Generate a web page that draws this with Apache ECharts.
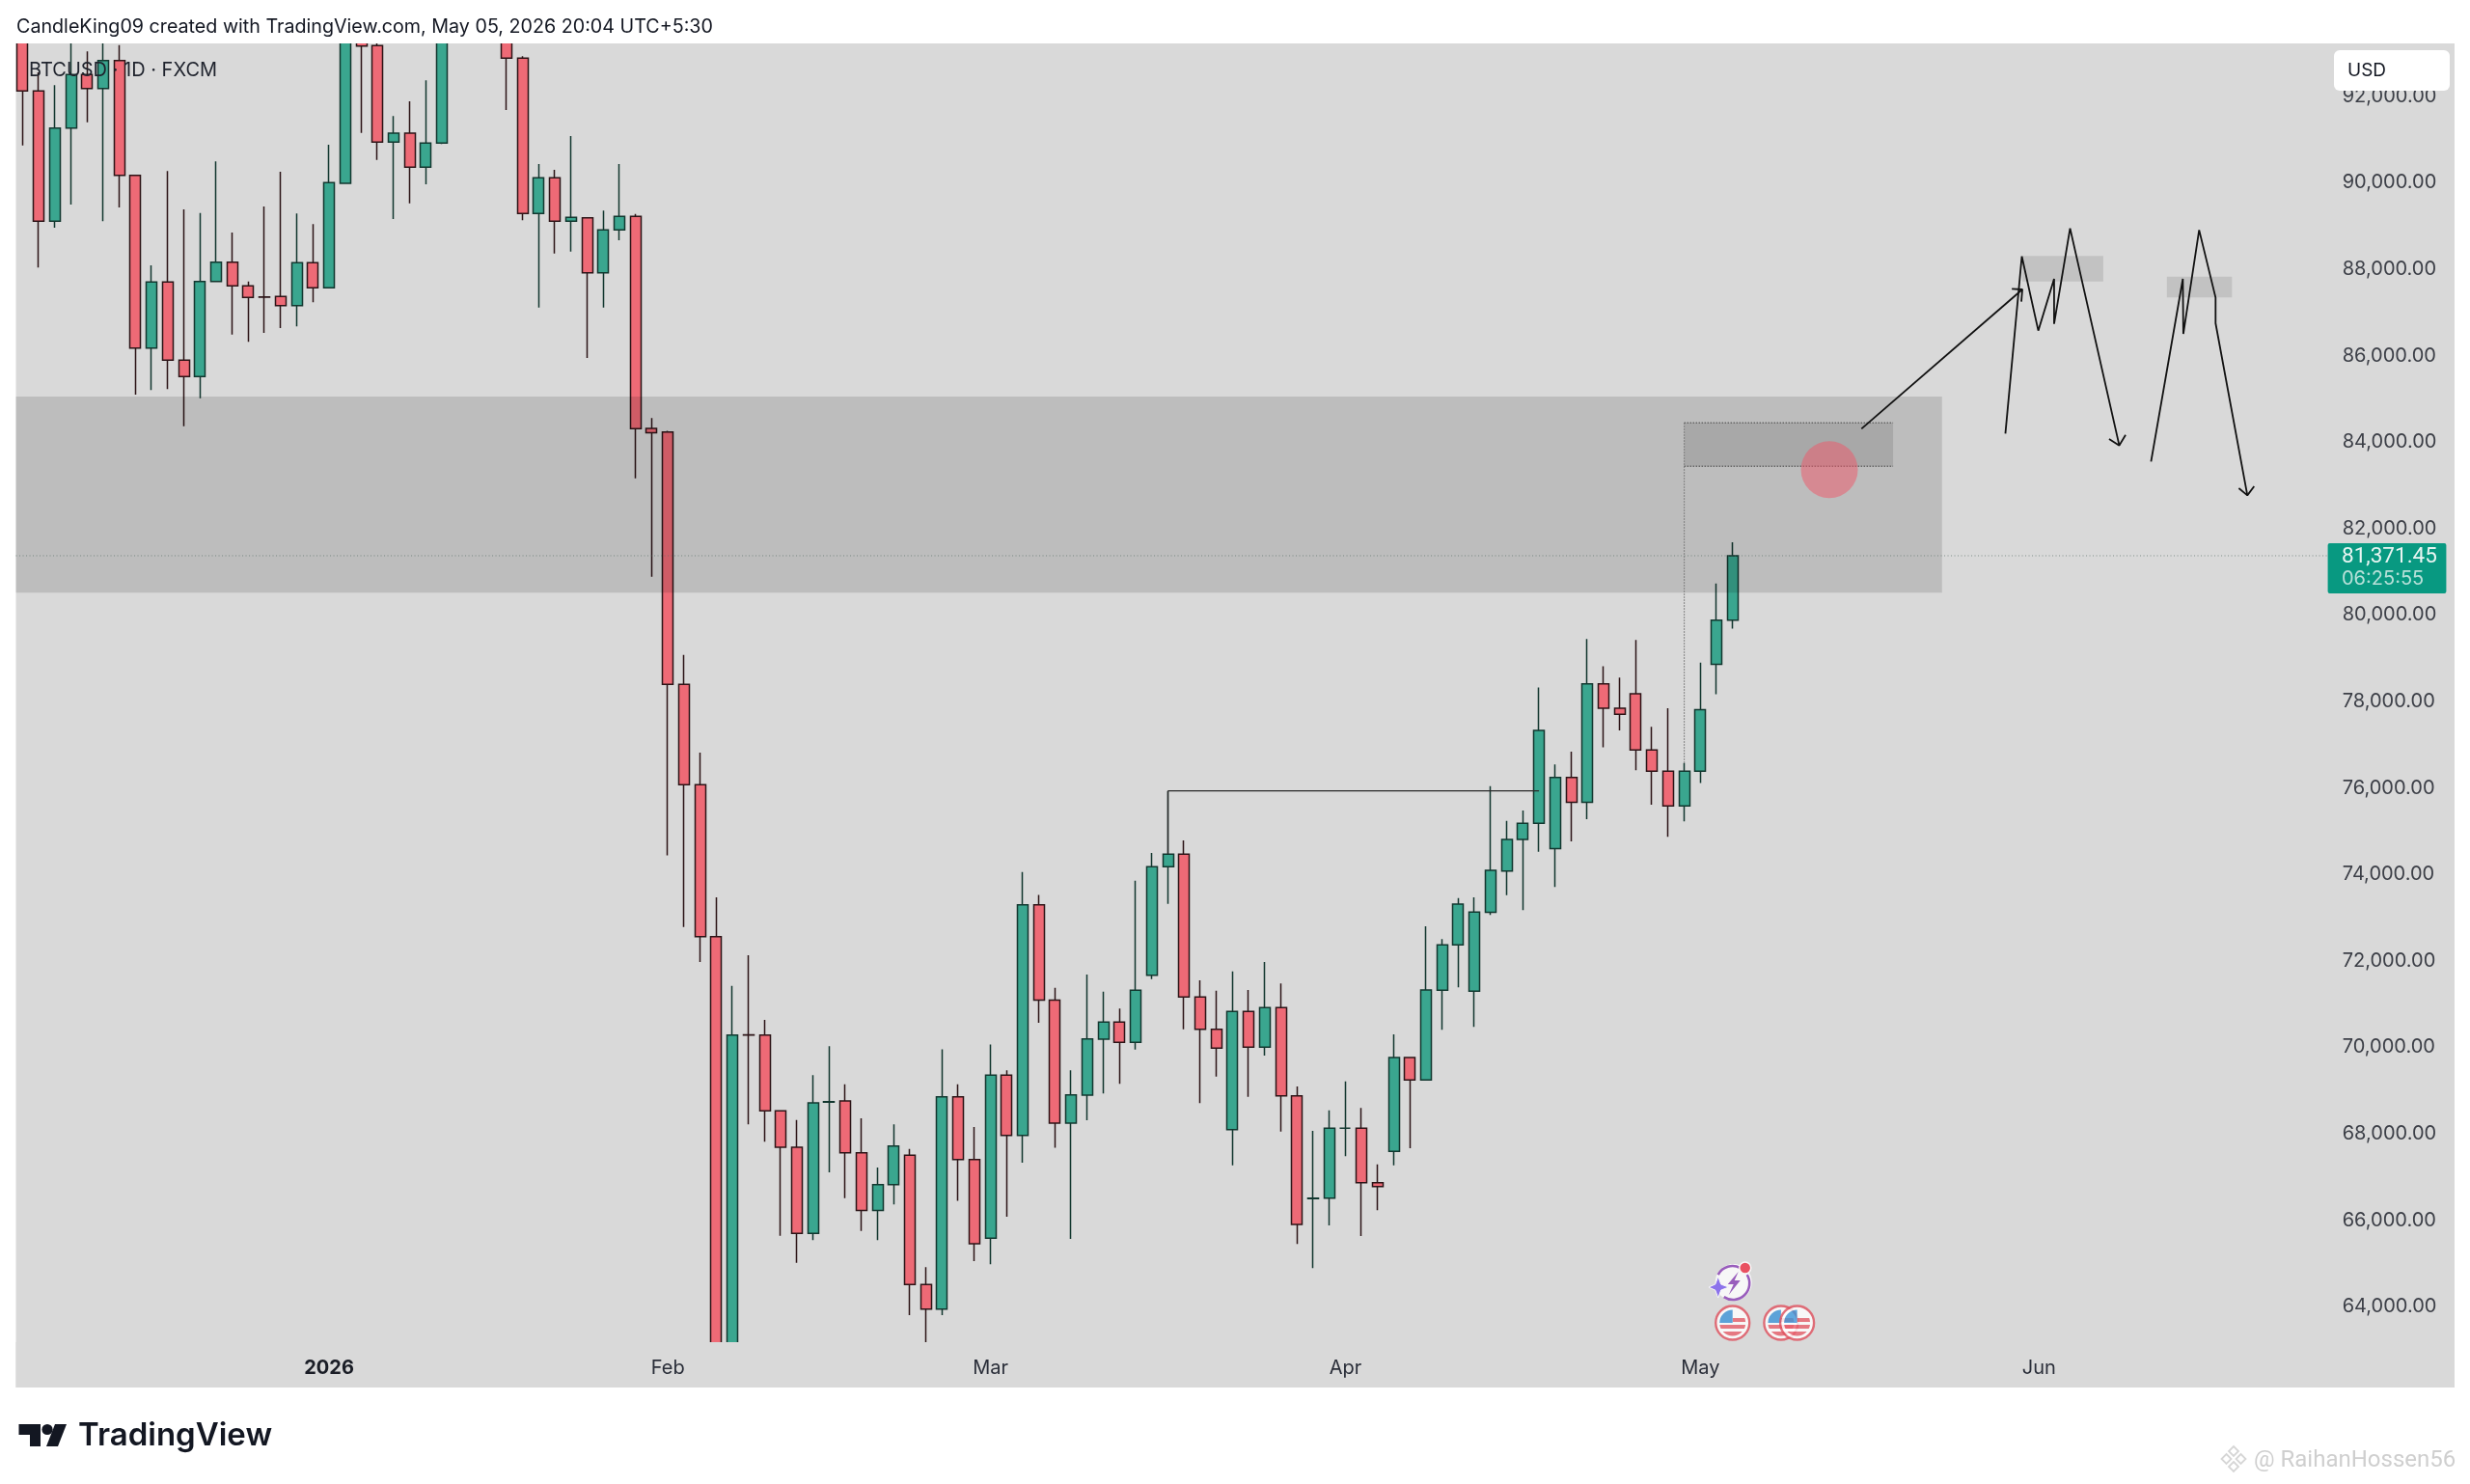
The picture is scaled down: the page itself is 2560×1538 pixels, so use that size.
<!DOCTYPE html>
<html><head><meta charset="utf-8">
<style>html,body{margin:0;padding:0;background:#fff}#c{width:2560px;height:1538px}</style>
<script src="https://cdn.jsdelivr.net/npm/echarts@6/dist/echarts.min.js"></script>
</head><body><div id="c"></div>
<script>
// Candle values; candles 27-29 lie above the visible range.
const opens = [93600,92122,89108,91266,92501,92181,92828,90172,86177,87702,85894,85515,87717,88163,87613,87360,87367,87159,88148,87568,89986,93500,93170,90939,91147,90358,90916,null,null,null,93700,92880,89287,90113,89108,89190,87918,88907,89220,84317,84231,78395,76075,72559,62800,70290,70281,68530,67690,65697,68730,68758,67562,66224,66822,67505,64516,63947,68857,67405,65584,69356,67961,73299,71093,68245,68894,70188,70583,70114,71669,74176,74466,71163,70419,68098,70828,70002,70917,68879,66498,66513,68128,68128,66870,67592,69764,69244,71319,72368,71297,73124,74080,74810,75180,74595,76244,75670,78408,77846,78181,76878,76388,75587,76388,78862,79879];
const closes = [92122,89108,91266,92501,92181,92828,90172,86177,87702,85894,85515,87717,88163,87613,87345,87355,87159,88148,87568,90001,94000,93163,90939,91147,90358,90916,94000,null,null,null,92880,89287,90113,89108,89198,87918,88907,89220,84310,84217,78395,76075,72559,62500,70281,70281,68530,67690,65697,68715,68745,67562,66224,66822,67719,64516,63947,68857,67405,65455,69356,67961,73299,71093,68245,68900,70196,70583,70114,71319,74176,74466,71163,70419,69980,70828,70002,70917,68879,65903,66510,68128,68128,66870,66781,69764,69244,71327,72368,73313,73127,74092,74810,75180,77332,76244,75670,78408,77846,77703,76878,76388,75587,76388,77810,79879,81371.45];
const lows = [90864,88037,88960,89495,91400,89108,89428,85098,85202,85224,84369,85016,87717,86489,86318,86527,86638,86675,87233,87568,89986,91154,90529,89160,89525,89964,90894,null,null,null,91683,89131,87114,88364,88409,85946,87114,88669,83164,80886,74438,72786,71975,61000,62500,68217,67819,65640,65014,65541,67107,66509,65754,65541,66366,63804,63000,63804,66452,65056,64985,66082,67334,70566,67676,65569,68314,68931,69154,69950,71580,73321,70419,68708,69325,67272,68857,69809,68053,65449,64891,65881,67480,65635,66230,67272,67666,69244,70404,71386,70471,73064,73519,73172,74523,73710,74762,75276,76938,77332,76412,75611,74870,75228,76113,78169,79687];
const highs = [94000,92553,92255,93400,93037,93400,93186,90172,88089,90269,89384,89302,90492,88848,87717,89451,90254,89287,89041,90879,94200,94000,93300,91541,91883,92367,94200,null,null,null,93900,92925,90433,90299,91080,89190,89354,90433,89280,84559,84260,79078,76815,73469,71420,72131,70637,68530,68317,69356,70025,69143,68359,67221,68217,67647,64914,69953,69143,68160,70067,69470,74053,73527,71377,69470,71684,71290,70895,73856,74496,75925,74786,71550,71312,71758,71327,71974,71475,69095,68068,68544,69214,68596,67294,70300,69764,72800,72502,73455,73469,76041,75240,75479,78324,76543,76842,79448,78815,78552,79424,77416,77846,76579,78898,80727,81684];

const priceTicks = [64000,66000,68000,70000,72000,74000,76000,78000,80000,82000,84000,86000,88000,90000,92000];
const timeTickIndex = [19,40,60,82,104,125];
const timeTickLabels = ['2026','Feb','Mar','Apr','May','Jun'];
const slotCount = 144;
const lastPrice = 81371.45;
const countdown = '06:25:55';

// Annotations in chart units: [bar position, price]
const bigZone = [-0.41,118.98,85054,80516];
const innerZone = [103,115.95,84444,83440];
const smallZoneA = [123.96,128.98,88305,87717];
const smallZoneB = [132.92,136.96,87829,87345];
const levelLine = [[71,75934],[94,75934]];
const levelDrop = [[71,75934],[71,74466]];
const riseArrow = [[113.99,84309],[123.96,87531]];
const riseHead = [[123.31,87546],[123.96,87531],[123.90,87248]];
const pathOne = [[122.91,84198],[123.93,88297],[124.95,86579],[125.93,87777],[125.93,86735],[126.92,88945],[129.97,83923]];
const headOne = [[129.34,84071],[129.97,83923],[130.36,84168]];
const pathTwo = [[131.94,83551],[133.91,87777],[133.94,86504],[134.92,88907],[135.94,87345],[135.94,86750],[137.91,82769]];
const headTwo = [[137.38,82933],[137.91,82769],[138.33,82978]];
const circlePoint = [[112,83364]];
const flagPoints = [[106,63626],[109,63626],[110,63626]];
const eventPoint = [[106,64540]];

const font = 'Inter, Roboto, "Noto Sans", sans-serif';
const categories = Array.from({length:slotCount},(_,i)=>{const k=timeTickIndex.indexOf(i);return k>=0?timeTickLabels[k]:'';});
const vis = v=>Math.min(93300,Math.max(63100,v));
const candleData = opens.map((o,i)=>o===null?['-','-','-','-']:[vis(o),vis(closes[i]),vis(lows[i]),vis(highs[i])]);

const flagSvg = 'data:image/svg+xml;utf8,'+encodeURIComponent('<svg xmlns="http://www.w3.org/2000/svg" width="80" height="80" viewBox="0 0 40 40"><defs><clipPath id="k"><circle cx="20" cy="20" r="13.5"/></clipPath></defs><circle cx="20" cy="20" r="17.5" fill="#fff" stroke="#e0525f" stroke-width="2.4"/><g clip-path="url(#k)"><rect width="40" height="40" fill="#fff"/><rect y="15" x="20" width="20" height="4" fill="#e8606c"/><rect y="22" width="40" height="4" fill="#e8606c"/><rect y="29" width="40" height="5" fill="#e8606c"/><rect x="5" y="5" width="15" height="15" fill="#3d95d8"/></g></svg>');
const eventSvg = 'data:image/svg+xml;utf8,'+encodeURIComponent('<svg xmlns="http://www.w3.org/2000/svg" width="100" height="100" viewBox="0 0 50 50"><circle cx="26" cy="24" r="19" fill="#fff"/><path d="M10 16 A 17 17 0 0 1 33 9" fill="none" stroke="#8a3fb5" stroke-width="2.6"/><path d="M40 16 A 17 17 0 0 1 16 39" fill="none" stroke="#8a3fb5" stroke-width="2.6"/><path d="M31 13 L20 26 L26 26 L21 37 L33 22 L27 22 Z" fill="#8a3fb5"/><path d="M10 18 L13 26 L21 29 L13 32 L10 40 L7 32 L0 29 L7 26 Z" fill="#7a5af0" stroke="#fff" stroke-width="1"/><circle cx="38" cy="9" r="6" fill="#ee3044" stroke="#fff" stroke-width="1.5"/></svg>');

const ann = (data,width,color,type)=>({type:'line',xAxisIndex:1,yAxisIndex:0,data,showSymbol:false,symbol:'none',silent:true,z:6,animation:false,
  lineStyle:{width,color,type:type||'solid'}});
const rectSeries = (rows,z)=>({type:'custom',xAxisIndex:1,yAxisIndex:0,silent:true,z,animation:false,clip:true,
  data:rows.map(r=>({value:[r.z[0],r.z[1],r.z[2],r.z[3]],fill:r.fill})),
  encode:{x:[0,1],y:[2,3]},
  renderItem:(p,api)=>{const a=api.coord([api.value(0),api.value(2)]),b=api.coord([api.value(1),api.value(3)]);
    return {type:'rect',shape:{x:a[0],y:a[1],width:b[0]-a[0],height:b[1]-a[1]},style:{fill:rows[p.dataIndex].fill}};}});
const diamond = (cx,cy,r)=>({type:'polygon',z:20,silent:true,shape:{points:[[cx,cy-r],[cx+r,cy],[cx,cy+r],[cx-r,cy]]},style:{fill:'none',stroke:'#d6d6d6',lineWidth:1.8}});

const chart = echarts.init(document.getElementById('c'),null,{renderer:'canvas'});
chart.setOption({
  animation:false,backgroundColor:'#fff',textStyle:{fontFamily:font},
  grid:{left:15.04,top:45,width:2407.68,height:1346,containLabel:false},
  xAxis:[
    {type:'category',z:30,data:categories,boundaryGap:true,axisLine:{show:false},axisTick:{show:false},splitLine:{show:false},
     axisLabel:{interval:0,margin:16.5,hideOverlap:false,color:'#2a2e39',fontSize:20,fontFamily:font,
       formatter:v=>v==='2026'?'{b|2026}':v,rich:{b:{fontWeight:700,fontSize:20,color:'#1a1d26',fontFamily:font}}}},
    {type:'value',min:-0.5,max:slotCount-0.5,show:false,splitLine:{show:false}}
  ],
  yAxis:[{type:'value',position:'right',min:63180,max:93223,scale:true,axisLine:{show:false},axisTick:{show:false},splitLine:{show:false},
    axisLabel:{customValues:priceTicks,margin:5,padding:[6,0,0,0],color:'#3c3f47',fontSize:20,fontFamily:font,formatter:v=>v.toLocaleString('en-US',{minimumFractionDigits:2,maximumFractionDigits:2})}}],
  series:[
    {type:'candlestick',name:'BTCUSD',xAxisIndex:0,yAxisIndex:0,data:candleData,barWidth:11.5,z:3,silent:true,
     itemStyle:{color:'#3aa68f',color0:'#ee6a76',borderColor:'#12372f',borderColor0:'#2c1417',borderWidth:1.5}},
    rectSeries([{z:bigZone,fill:'rgba(0,0,0,0.13)'},{z:innerZone,fill:'rgba(0,0,0,0.11)'},{z:smallZoneA,fill:'rgba(0,0,0,0.10)'},{z:smallZoneB,fill:'rgba(0,0,0,0.10)'}],4),
    ann([[innerZone[0],innerZone[2]],[innerZone[1],innerZone[2]]],1.5,'#666',[1.5,1.5]),
    ann([[innerZone[0],innerZone[3]],[innerZone[1],innerZone[3]]],1.5,'#666',[1.5,1.5]),
    ann([[innerZone[0],innerZone[2]],[innerZone[0],76579]],1.2,'#777',[1.5,1.5]),
    ann([[-0.41,lastPrice],[slotCount-0.5,lastPrice]],1,'rgba(90,112,106,0.7)',[1,2.5]),
    ann(levelLine,1.3,'#2a2a2a'),ann(levelDrop,1.3,'#2a2a2a'),
    ann(riseArrow,1.8,'#111'),ann(riseHead,1.8,'#111'),
    ann(pathOne,1.8,'#111'),ann(headOne,1.8,'#111'),
    ann(pathTwo,1.8,'#111'),ann(headTwo,1.8,'#111'),
    {type:'scatter',xAxisIndex:1,yAxisIndex:0,data:circlePoint,symbolSize:59,silent:true,z:7,itemStyle:{color:'rgba(240,84,104,0.62)'}},
    {type:'scatter',xAxisIndex:1,yAxisIndex:0,data:flagPoints,symbol:'image://'+flagSvg,symbolSize:40,silent:true,z:8,clip:false},
    {type:'scatter',xAxisIndex:1,yAxisIndex:0,data:eventPoint,symbol:'image://'+eventSvg,symbolSize:50,silent:true,z:8,clip:false}
  ],
  graphic:{elements:[
    {type:'rect',z:-5,silent:true,shape:{x:16.5,y:45,width:2527.5,height:1393},style:{fill:'#d9d9d9'}},
    {type:'rect',z:10,silent:true,shape:{x:0,y:0,width:2560,height:45},style:{fill:'#fff'}},
    {type:'rect',z:10,silent:true,shape:{x:16.5,y:1391,width:2400,height:47},style:{fill:'#d9d9d9'}},
    {type:'text',z:20,silent:true,x:17,y:28,style:{text:'CandleKing09 created with TradingView.com, May 05, 2026 20:04 UTC+5:30',fill:'#131722',font:'19.7px '+font,textVerticalAlign:'middle'}},
    {type:'text',z:20,silent:true,x:30,y:72.5,style:{text:'BTCUSD · 1D · FXCM',fill:'#1f232d',font:'20px '+font,textVerticalAlign:'middle'}},
    {type:'rect',z:20,silent:true,shape:{x:2419,y:52,width:120,height:42,r:6},style:{fill:'#fff'}},
    {type:'text',z:21,silent:true,x:2433,y:73,style:{text:'USD',fill:'#131722',font:'19px '+font,textVerticalAlign:'middle'}},
    {type:'rect',z:20,silent:true,shape:{x:2412.6,y:563,width:122.8,height:52,r:2},style:{fill:'#089981'}},
    {type:'text',z:21,silent:true,x:2427,y:577.5,style:{text:lastPrice.toLocaleString('en-US',{minimumFractionDigits:2}),fill:'#e8f5f2',font:'22.5px Roboto, '+font,textVerticalAlign:'middle'}},
    {type:'text',z:21,silent:true,x:2427,y:600,style:{text:countdown,fill:'#b6e0d8',font:'20px '+font,textVerticalAlign:'middle'}},
    {type:'polygon',z:20,silent:true,shape:{points:[[19.5,1476],[42,1476],[42,1499],[31,1499],[31,1487],[19.5,1487]]},style:{fill:'#131722'}},
    {type:'circle',z:20,silent:true,shape:{cx:49,cy:1481.5,r:5.6},style:{fill:'#131722'}},
    {type:'polygon',z:20,silent:true,shape:{points:[[57,1476],[69,1476],[60,1499],[48,1499]]},style:{fill:'#131722'}},
    {type:'text',z:20,silent:true,x:81,y:1488,style:{text:'TradingView',fill:'#131722',font:'600 33px '+font,textVerticalAlign:'middle'}},
    diamond(2315,1504,5),diamond(2307.5,1512,5),diamond(2322.5,1512,5),diamond(2315,1520,5),
    {type:'text',z:20,silent:true,x:2336,y:1514,style:{text:'@ RaihanHossen56',fill:'#cfcfcf',font:'24px Roboto, '+font,textVerticalAlign:'middle'}}
  ]}
});
</script></body></html>
